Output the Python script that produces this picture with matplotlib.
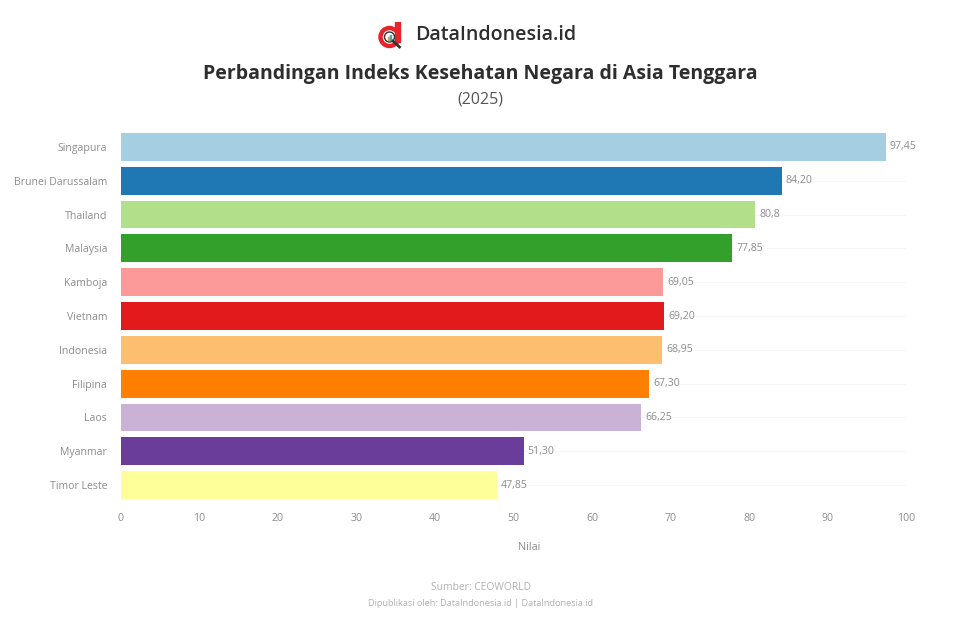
import matplotlib
matplotlib.use("Agg")
import matplotlib.pyplot as plt
from matplotlib.patches import Circle, Rectangle
import numpy as np

plt.rcParams['font.family'] = ['Open Sans', 'DejaVu Sans']

# Data
countries = ['Singapura', 'Brunei Darussalam', 'Thailand', 'Malaysia', 'Kamboja', 'Vietnam',
             'Indonesia', 'Filipina', 'Laos', 'Myanmar', 'Timor Leste']
values = [97.45, 84.20, 80.80, 77.85, 69.05, 69.20, 68.95, 67.30, 66.25, 51.30, 47.85]
value_labels = ['97,45', '84,20', '80,8', '77,85', '69,05', '69,20', '68,95', '67,30', '66,25', '51,30', '47,85']
bar_colors = ['#a6cee3', '#1f78b4', '#b2df8a', '#33a02c', '#fb9a99', '#e31a1c',
              '#fdbf6f', '#ff7f00', '#cab2d6', '#6a3d9a', '#ffff99']
x_ticks = [0, 10, 20, 30, 40, 50, 60, 70, 80, 90, 100]

W, H = 960, 620
fig = plt.figure(figsize=(W / 100, H / 100), dpi=100, facecolor='white')

# Main bars
ax = fig.add_axes([121 / W, 1 - 502 / H, (906 - 121) / W, (502 - 130) / H])
y = np.arange(len(countries))
ax.barh(y, values, height=0.82, color=bar_colors, zorder=2)
ax.set_xlim(0, 100)
ax.set_ylim(len(countries) - 0.5, -0.5)
ax.set_yticks(y)
ax.set_yticklabels(countries, fontsize=7.6, color='#8c8c8c')
ax.set_xticks(x_ticks)
ax.set_xticklabels(x_ticks, fontsize=7.6, color='#8c8c8c')
ax.tick_params(length=0, pad=10)
ax.tick_params(axis='x', pad=8)
ax.grid(axis='y', color='#f7f7f7', lw=0.8, zorder=0)
for s in ax.spines.values():
    s.set_visible(False)
for yi, v, lab in zip(y, values, value_labels):
    ax.text(v + 0.5, yi, lab, fontsize=7.6, color='#8c8c8c', va='center', ha='left')

# Header and footer
fig.text(415 / W, 1 - 35 / H, 'DataIndonesia.id', fontsize=14.1, fontweight='semibold',
         color='#2e2e2e', va='center', ha='left')
fig.text(480 / W, 1 - 74 / H, 'Perbandingan Indeks Kesehatan Negara di Asia Tenggara',
         fontsize=14.05, fontweight='bold', color='#2e2e2e', va='center', ha='center')
fig.text(480 / W, 1 - 99 / H, '(2025)', fontsize=11.5, color='#555555', va='center', ha='center')
fig.text(529 / W, 1 - 548 / H, 'Nilai', fontsize=7.8, color='#8c8c8c', va='center', ha='center')
fig.text(481 / W, 1 - 587 / H, 'Sumber: CEOWORLD', fontsize=7.4, color='#b0b0b0', va='center', ha='center')
fig.text(480 / W, 1 - 603 / H, 'Dipublikasi oleh: DataIndonesia.id | DataIndonesia.id',
         fontsize=6.6, color='#b0b0b0', va='center', ha='center')

# Logo
logo = fig.add_axes([376 / W, 1 - 49 / H, 27 / W, 27 / H])
logo.set_xlim(0, 27)
logo.set_ylim(27, 0)
logo.axis('off')
logo.add_patch(Circle((13.5, 15), 9, fill=False, ec='#e8232a', lw=3.2))
logo.add_patch(Rectangle((18.5, 0), 5, 20, color='#e8232a'))
logo.add_patch(Circle((13.5, 15), 5, fc='white', ec='#333333', lw=1))
logo.add_patch(Rectangle((11.5, 15), 1.5, 3, color='#e8a23a'))
logo.add_patch(Rectangle((13.5, 13), 1.5, 5, color='#4aa3c8'))
logo.plot([17, 23.5], [19, 25], color='#333333', lw=2)

fig.savefig('out.png', dpi=100)
